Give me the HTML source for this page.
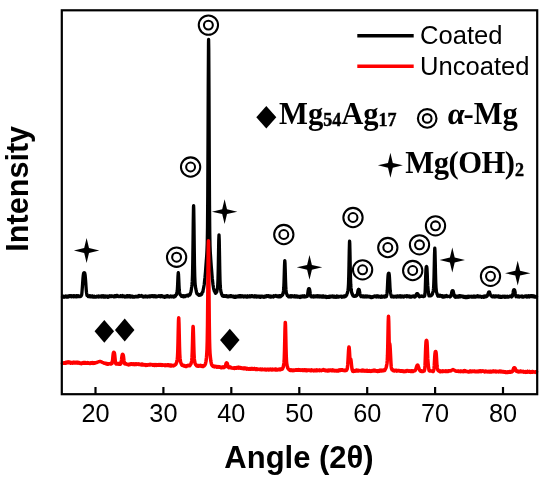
<!DOCTYPE html>
<html><head><meta charset="utf-8"><style>
html,body{margin:0;padding:0;background:#fff;}
body{width:550px;height:483px;overflow:hidden;}
svg{display:block;}
.tk{font-family:"Liberation Sans",Arial,sans-serif;font-size:25.3px;fill:#000;}
.lab{font-family:"Liberation Sans",Arial,sans-serif;font-size:31px;font-weight:bold;fill:#000;}
.leg{font-family:"Liberation Sans",Arial,sans-serif;font-size:25.6px;fill:#000;}
.ser{font-family:"Liberation Serif","Times New Roman",serif;font-size:30.6px;font-weight:bold;fill:#000;}
.sub{font-size:18px;stroke:#000;stroke-width:0.45px;}
.it{font-style:italic;}
</style></head><body>
<svg width="550" height="483" viewBox="0 0 550 483">
<rect x="0" y="0" width="550" height="483" fill="#fff"/>
<path d="M62.50,297.0 62.75,296.1 63.00,296.7 63.25,296.6 63.50,296.7 63.75,296.8 64.00,296.4 64.25,297.2 64.50,296.6 64.75,296.8 65.00,296.8 65.25,296.3 65.50,296.1 65.75,296.5 66.00,297.0 66.25,297.0 66.50,296.9 66.75,296.1 67.00,297.1 67.25,296.9 67.50,297.0 67.75,296.6 68.00,297.0 68.25,296.0 68.50,295.9 68.75,295.9 69.00,296.2 69.25,296.1 69.50,296.0 69.75,296.5 70.00,295.8 70.25,296.5 70.50,296.0 70.75,296.6 71.00,295.7 71.25,296.1 71.50,296.8 71.75,296.3 72.00,296.7 72.25,296.5 72.50,296.5 72.75,296.0 73.00,296.4 73.25,295.8 73.50,296.7 73.75,296.9 74.00,296.8 74.25,295.8 74.50,296.2 74.75,296.2 75.00,295.9 75.25,296.5 75.50,296.7 75.75,296.1 76.00,296.7 76.25,296.6 76.50,295.8 76.75,296.5 77.00,296.7 77.25,295.8 77.50,296.3 77.75,296.3 78.00,296.3 78.25,295.7 78.50,296.4 78.75,296.4 79.00,296.6 79.25,296.6 79.50,296.1 79.75,296.5 80.00,296.7 80.25,296.7 80.50,295.9 80.75,295.7 81.00,296.3 81.25,295.6 81.50,295.4 81.75,294.4 82.00,291.8 82.25,288.7 82.50,285.1 82.75,281.4 83.00,277.9 83.25,275.4 83.50,273.8 83.75,273.0 84.00,272.8 84.20,272.7 84.25,272.7 84.50,272.8 84.75,273.2 85.00,274.3 85.25,276.3 85.50,279.2 85.75,282.7 86.00,286.6 86.25,290.1 86.50,292.5 86.75,294.0 87.00,295.6 87.25,295.4 87.50,295.5 87.75,295.6 88.00,295.6 88.25,296.6 88.50,295.9 88.75,295.9 89.00,296.6 89.25,296.3 89.50,295.8 89.75,296.2 90.00,296.7 90.25,296.2 90.50,296.6 90.75,295.9 91.00,296.7 91.25,296.8 91.50,296.9 91.75,296.8 92.00,296.4 92.25,296.1 92.50,296.7 92.75,297.0 93.00,296.3 93.25,296.4 93.50,296.7 93.75,296.9 94.00,297.1 94.25,296.2 94.50,296.3 94.75,297.0 95.00,296.8 95.25,296.9 95.50,297.2 95.75,297.2 96.00,297.0 96.25,297.0 96.50,296.5 96.75,296.8 97.00,296.2 97.25,296.9 97.50,296.9 97.75,296.9 98.00,296.5 98.25,296.4 98.50,296.5 98.75,296.0 99.00,297.0 99.25,296.6 99.50,296.4 99.75,296.5 100.00,296.7 100.25,296.3 100.50,296.8 100.75,296.9 101.00,296.2 101.25,295.9 101.50,296.6 101.75,296.9 102.00,295.9 102.25,296.6 102.50,296.8 102.75,296.9 103.00,296.0 103.25,296.0 103.50,297.1 103.75,296.0 104.00,296.1 104.25,296.6 104.50,296.5 104.75,296.9 105.00,296.2 105.25,297.1 105.50,296.3 105.75,297.0 106.00,296.2 106.25,296.7 106.50,296.1 106.75,296.5 107.00,296.5 107.25,297.0 107.50,296.7 107.75,296.2 108.00,297.3 108.25,297.1 108.50,297.1 108.75,296.2 109.00,296.4 109.25,296.1 109.50,295.9 109.75,295.8 110.00,296.3 110.25,295.8 110.50,295.8 110.75,296.6 111.00,296.2 111.25,295.9 111.50,296.5 111.75,296.0 112.00,296.3 112.25,296.1 112.50,296.4 112.75,296.5 113.00,296.4 113.25,296.3 113.50,296.8 113.75,296.9 114.00,296.0 114.25,295.9 114.50,295.8 114.75,296.8 115.00,296.8 115.25,295.9 115.50,296.7 115.75,295.8 116.00,296.1 116.25,296.0 116.50,296.5 116.75,295.5 117.00,295.8 117.25,296.2 117.50,295.5 117.75,295.8 118.00,296.1 118.25,296.6 118.50,296.4 118.75,296.5 119.00,296.5 119.25,296.4 119.50,296.6 119.75,296.4 120.00,296.4 120.25,295.9 120.50,295.7 120.75,296.4 121.00,295.7 121.25,296.6 121.50,296.2 121.75,295.9 122.00,296.6 122.25,295.6 122.50,296.0 122.75,295.6 123.00,296.7 123.25,296.2 123.50,296.5 123.75,296.0 124.00,296.6 124.25,296.5 124.50,296.5 124.75,296.9 125.00,296.3 125.25,296.4 125.50,296.7 125.75,296.9 126.00,296.3 126.25,296.6 126.50,296.1 126.75,296.4 127.00,296.7 127.25,295.8 127.50,296.6 127.75,295.7 128.00,296.8 128.25,296.2 128.50,296.1 128.75,296.5 129.00,296.3 129.25,296.6 129.50,295.8 129.75,296.5 130.00,296.5 130.25,297.0 130.50,295.9 130.75,296.5 131.00,296.7 131.25,296.7 131.50,296.1 131.75,296.8 132.00,296.3 132.25,296.3 132.50,297.1 132.75,296.3 133.00,296.6 133.25,296.9 133.50,296.9 133.75,296.7 134.00,297.0 134.25,296.6 134.50,296.8 134.75,297.0 135.00,296.8 135.25,296.8 135.50,296.5 135.75,296.6 136.00,296.4 136.25,296.8 136.50,296.4 136.75,296.5 137.00,296.8 137.25,296.5 137.50,296.3 137.75,296.8 138.00,296.3 138.25,296.8 138.50,296.6 138.75,296.2 139.00,296.4 139.25,295.5 139.50,295.9 139.75,296.4 140.00,296.0 140.25,295.9 140.50,296.0 140.75,296.1 141.00,296.0 141.25,295.9 141.50,295.6 141.75,295.8 142.00,295.9 142.25,296.1 142.50,296.8 142.75,296.1 143.00,296.2 143.25,296.2 143.50,296.5 143.75,297.0 144.00,296.9 144.25,296.3 144.50,296.2 144.75,296.9 145.00,296.5 145.25,296.7 145.50,296.0 145.75,296.9 146.00,296.3 146.25,296.5 146.50,296.2 146.75,296.5 147.00,296.9 147.25,296.9 147.50,296.5 147.75,296.9 148.00,296.5 148.25,296.4 148.50,296.6 148.75,296.2 149.00,296.4 149.25,296.8 149.50,296.9 149.75,296.0 150.00,296.8 150.25,296.8 150.50,296.4 150.75,295.9 151.00,296.6 151.25,296.0 151.50,296.4 151.75,296.1 152.00,296.3 152.25,295.8 152.50,296.1 152.75,296.1 153.00,296.3 153.25,295.8 153.50,296.7 153.75,296.0 154.00,296.0 154.25,296.0 154.50,295.8 154.75,296.2 155.00,296.7 155.25,296.6 155.50,296.0 155.75,296.0 156.00,296.2 156.25,296.7 156.50,296.3 156.75,296.8 157.00,296.5 157.25,296.5 157.50,296.6 157.75,296.6 158.00,296.1 158.25,296.0 158.50,296.2 158.75,296.2 159.00,295.8 159.25,296.2 159.50,296.4 159.75,295.8 160.00,295.8 160.25,295.9 160.50,296.0 160.75,296.8 161.00,295.7 161.25,295.9 161.50,295.9 161.75,296.3 162.00,295.8 162.25,296.4 162.50,296.1 162.75,296.2 163.00,296.9 163.25,296.2 163.50,296.8 163.75,296.6 164.00,296.6 164.25,297.2 164.50,296.4 164.75,297.3 165.00,297.2 165.25,296.9 165.50,296.1 165.75,296.8 166.00,296.7 166.25,296.8 166.50,296.1 166.75,296.9 167.00,296.8 167.25,295.8 167.50,296.0 167.75,295.7 168.00,296.7 168.25,296.8 168.50,296.9 168.75,296.5 169.00,296.5 169.25,296.6 169.50,296.5 169.75,296.9 170.00,296.5 170.25,296.2 170.50,296.5 170.75,295.9 171.00,296.7 171.25,296.7 171.50,296.4 171.75,296.9 172.00,296.8 172.25,296.4 172.50,296.1 172.75,296.1 173.00,296.2 173.25,296.4 173.50,296.6 173.75,297.1 174.00,296.2 174.25,296.9 174.50,296.6 174.75,296.7 175.00,296.0 175.25,295.4 175.50,296.1 175.75,295.2 176.00,294.8 176.25,295.0 176.50,294.4 176.75,293.4 177.00,292.4 177.25,290.8 177.50,287.0 177.75,281.6 178.00,275.9 178.25,272.9 178.30,272.7 178.50,274.2 178.75,279.1 179.00,285.0 179.25,289.5 179.50,291.7 179.75,293.1 180.00,294.3 180.25,294.7 180.50,294.8 180.75,295.5 181.00,295.6 181.25,296.2 181.50,295.7 181.75,296.3 182.00,296.3 182.25,296.4 182.50,296.0 182.75,296.5 183.00,296.4 183.25,296.1 183.50,295.7 183.75,296.8 184.00,296.5 184.25,295.9 184.50,296.5 184.75,295.9 185.00,296.1 185.25,296.6 185.50,296.1 185.75,295.9 186.00,295.8 186.25,295.5 186.50,295.6 186.75,295.6 187.00,295.5 187.25,295.3 187.50,295.7 187.75,295.3 188.00,295.9 188.25,296.0 188.50,295.1 188.75,295.4 189.00,295.3 189.25,294.6 189.50,294.5 189.75,295.1 190.00,294.3 190.25,294.2 190.50,292.7 190.75,292.5 191.00,291.7 191.25,290.4 191.50,288.1 191.75,286.8 192.00,284.5 192.25,281.4 192.50,274.7 192.75,262.6 193.00,243.5 193.25,221.5 193.50,207.0 193.60,205.6 193.75,208.7 194.00,225.5 194.25,247.7 194.50,265.6 194.75,276.2 195.00,282.0 195.25,285.3 195.50,287.0 195.75,288.7 196.00,289.8 196.25,291.2 196.50,292.4 196.75,292.9 197.00,293.7 197.25,293.8 197.50,293.7 197.75,294.4 198.00,294.5 198.25,294.3 198.50,294.9 198.75,295.2 199.00,294.5 199.25,295.0 199.50,295.3 199.75,294.9 200.00,294.7 200.25,294.8 200.50,295.0 200.75,295.0 201.00,294.7 201.25,294.0 201.50,294.5 201.75,294.3 202.00,293.0 202.25,292.7 202.50,292.0 202.75,292.1 203.00,291.4 203.25,289.4 203.50,288.6 203.75,287.1 204.00,285.8 204.25,284.5 204.50,281.6 204.75,279.4 205.00,277.2 205.25,274.4 205.50,271.6 205.75,268.2 206.00,264.7 206.25,261.4 206.50,258.4 206.75,254.8 207.00,250.1 207.25,243.5 207.50,228.0 207.75,196.3 208.00,144.0 208.25,83.6 208.50,43.2 208.60,39.3 208.75,48.3 209.00,95.1 209.25,155.9 209.50,204.3 209.75,232.2 210.00,245.2 210.25,251.5 210.50,255.4 210.75,259.1 211.00,262.5 211.25,266.0 211.50,269.0 211.75,271.9 212.00,275.1 212.25,278.2 212.50,280.1 212.75,282.4 213.00,284.7 213.25,286.1 213.50,288.0 213.75,289.3 214.00,289.7 214.25,291.0 214.50,291.2 214.75,291.6 215.00,292.3 215.25,292.8 215.50,293.3 215.75,292.5 216.00,293.1 216.25,292.6 216.50,291.8 216.75,292.0 217.00,290.8 217.25,289.1 217.50,288.1 217.75,284.6 218.00,279.0 218.25,268.8 218.50,254.4 218.75,240.4 219.00,234.8 219.25,240.6 219.50,254.4 219.75,269.1 220.00,279.5 220.25,285.5 220.50,288.7 220.75,290.5 221.00,292.2 221.25,292.4 221.50,294.0 221.75,294.2 222.00,295.1 222.25,295.6 222.50,295.9 222.75,295.3 223.00,295.6 223.25,296.2 223.50,296.3 223.75,295.7 224.00,296.4 224.25,295.8 224.50,295.7 224.75,296.2 225.00,296.0 225.25,296.0 225.50,295.9 225.75,296.0 226.00,295.7 226.25,295.7 226.50,296.6 226.75,296.4 227.00,296.5 227.25,296.7 227.50,296.1 227.75,296.1 228.00,296.1 228.25,296.1 228.50,296.7 228.75,296.2 229.00,296.1 229.25,296.5 229.50,296.0 229.75,295.9 230.00,296.5 230.25,296.6 230.50,296.0 230.75,296.5 231.00,295.8 231.25,296.3 231.50,296.5 231.75,296.1 232.00,296.3 232.25,296.6 232.50,296.6 232.75,296.1 233.00,296.8 233.25,296.1 233.50,297.1 233.75,296.2 234.00,296.3 234.25,296.3 234.50,297.3 234.75,296.4 235.00,296.8 235.25,297.3 235.50,297.3 235.75,296.2 236.00,296.8 236.25,297.0 236.50,297.1 236.75,296.6 237.00,296.6 237.25,296.1 237.50,296.1 237.75,296.7 238.00,296.1 238.25,296.2 238.50,296.3 238.75,295.9 239.00,295.8 239.25,296.8 239.50,296.2 239.75,295.9 240.00,296.6 240.25,295.7 240.50,296.0 240.75,296.9 241.00,296.9 241.25,296.6 241.50,296.0 241.75,296.3 242.00,295.9 242.25,296.2 242.50,296.0 242.75,296.1 243.00,296.7 243.25,296.0 243.50,296.1 243.75,297.0 244.00,296.3 244.25,296.2 244.50,295.9 244.75,296.8 245.00,296.6 245.25,296.4 245.50,296.5 245.75,295.9 246.00,296.1 246.25,296.5 246.50,297.0 246.75,296.8 247.00,296.6 247.25,296.5 247.50,295.9 247.75,297.0 248.00,296.0 248.25,296.1 248.50,296.8 248.75,296.9 249.00,296.8 249.25,296.4 249.50,296.0 249.75,295.8 250.00,296.8 250.25,296.9 250.50,296.0 250.75,296.7 251.00,296.1 251.25,296.0 251.50,296.2 251.75,295.6 252.00,296.1 252.25,295.9 252.50,296.5 252.75,296.3 253.00,296.7 253.25,296.8 253.50,296.1 253.75,296.0 254.00,296.9 254.25,296.3 254.50,295.9 254.75,295.8 255.00,297.0 255.25,296.5 255.50,295.9 255.75,296.4 256.00,296.4 256.25,296.4 256.50,297.0 256.75,297.0 257.00,296.0 257.25,296.1 257.50,296.4 257.75,296.9 258.00,296.7 258.25,296.8 258.50,296.7 258.75,296.3 259.00,297.0 259.25,296.1 259.50,296.9 259.75,296.4 260.00,296.7 260.25,297.4 260.50,296.9 260.75,296.3 261.00,296.7 261.25,297.0 261.50,296.3 261.75,296.5 262.00,296.3 262.25,296.9 262.50,296.7 262.75,296.9 263.00,296.6 263.25,297.1 263.50,296.5 263.75,297.3 264.00,297.3 264.25,296.7 264.50,296.6 264.75,297.0 265.00,296.3 265.25,296.8 265.50,296.1 265.75,296.6 266.00,296.1 266.25,296.3 266.50,296.7 266.75,295.6 267.00,296.5 267.25,296.2 267.50,296.1 267.75,296.0 268.00,295.7 268.25,296.0 268.50,296.4 268.75,295.8 269.00,296.5 269.25,296.8 269.50,296.9 269.75,296.8 270.00,296.7 270.25,296.0 270.50,297.0 270.75,296.1 271.00,297.0 271.25,297.0 271.50,296.7 271.75,296.7 272.00,296.3 272.25,296.7 272.50,296.5 272.75,296.2 273.00,296.2 273.25,296.9 273.50,297.0 273.75,296.0 274.00,295.7 274.25,296.0 274.50,295.8 274.75,295.8 275.00,296.2 275.25,295.9 275.50,295.8 275.75,295.6 276.00,296.2 276.25,295.8 276.50,295.9 276.75,296.1 277.00,296.6 277.25,295.9 277.50,296.5 277.75,296.0 278.00,296.7 278.25,296.2 278.50,296.3 278.75,296.8 279.00,296.5 279.25,295.8 279.50,295.9 279.75,296.9 280.00,295.8 280.25,296.1 280.50,296.8 280.75,295.7 281.00,295.8 281.25,295.8 281.50,295.5 281.75,295.8 282.00,295.7 282.25,295.1 282.50,294.4 282.75,294.6 283.00,293.8 283.25,292.6 283.50,290.7 283.75,288.0 284.00,282.4 284.25,274.1 284.50,265.6 284.75,260.8 284.80,260.7 285.00,262.9 285.25,270.5 285.50,279.4 285.75,286.1 286.00,289.9 286.25,292.5 286.50,293.5 286.75,294.0 287.00,294.6 287.25,295.5 287.50,295.3 287.75,296.0 288.00,296.3 288.25,296.2 288.50,296.7 288.75,296.3 289.00,296.3 289.25,296.1 289.50,296.9 289.75,296.2 290.00,296.6 290.25,296.3 290.50,296.9 290.75,296.9 291.00,295.8 291.25,297.0 291.50,296.5 291.75,295.9 292.00,296.4 292.25,295.9 292.50,296.5 292.75,296.0 293.00,296.2 293.25,296.2 293.50,296.5 293.75,296.8 294.00,296.9 294.25,296.2 294.50,296.5 294.75,295.8 295.00,296.3 295.25,297.0 295.50,296.0 295.75,296.9 296.00,296.6 296.25,296.2 296.50,296.8 296.75,296.3 297.00,297.0 297.25,296.1 297.50,296.2 297.75,297.0 298.00,296.7 298.25,296.4 298.50,296.8 298.75,296.6 299.00,297.0 299.25,297.3 299.50,297.4 299.75,296.4 300.00,297.0 300.25,297.4 300.50,296.8 300.75,297.1 301.00,296.2 301.25,297.1 301.50,296.7 301.75,297.0 302.00,296.9 302.25,296.9 302.50,295.9 302.75,296.7 303.00,296.1 303.25,296.1 303.50,296.2 303.75,296.5 304.00,296.6 304.25,296.9 304.50,295.8 304.75,296.1 305.00,296.3 305.25,296.8 305.50,296.5 305.75,296.4 306.00,296.7 306.25,296.6 306.50,296.2 306.75,295.9 307.00,296.3 307.25,296.4 307.50,295.2 307.75,293.5 308.00,291.7 308.25,290.1 308.50,289.1 308.75,288.7 309.00,288.7 309.25,288.7 309.50,289.1 309.75,290.1 310.00,291.8 310.25,293.7 310.50,295.1 310.75,296.3 311.00,296.3 311.25,296.9 311.50,296.2 311.75,296.0 312.00,296.8 312.25,296.2 312.50,296.9 312.75,296.6 313.00,296.5 313.25,296.0 313.50,296.8 313.75,296.0 314.00,297.0 314.25,296.9 314.50,296.3 314.75,296.0 315.00,296.9 315.25,296.4 315.50,296.0 315.75,296.4 316.00,296.1 316.25,296.2 316.50,296.5 316.75,296.8 317.00,296.6 317.25,295.8 317.50,296.2 317.75,296.2 318.00,296.9 318.25,295.8 318.50,296.4 318.75,296.9 319.00,296.3 319.25,296.1 319.50,296.5 319.75,296.3 320.00,297.0 320.25,296.0 320.50,296.2 320.75,296.1 321.00,296.8 321.25,296.3 321.50,297.0 321.75,297.0 322.00,297.0 322.25,296.2 322.50,295.9 322.75,296.3 323.00,297.0 323.25,296.8 323.50,295.9 323.75,296.7 324.00,297.0 324.25,297.1 324.50,296.9 324.75,297.1 325.00,297.1 325.25,296.5 325.50,296.3 325.75,297.1 326.00,296.4 326.25,296.7 326.50,297.5 326.75,297.0 327.00,296.9 327.25,297.4 327.50,296.6 327.75,297.4 328.00,297.3 328.25,296.7 328.50,296.6 328.75,296.4 329.00,297.3 329.25,296.4 329.50,296.2 329.75,297.2 330.00,296.8 330.25,296.9 330.50,297.0 330.75,296.1 331.00,296.2 331.25,296.6 331.50,296.1 331.75,296.6 332.00,296.9 332.25,296.8 332.50,296.7 332.75,296.0 333.00,296.3 333.25,297.1 333.50,296.2 333.75,296.7 334.00,296.1 334.25,297.2 334.50,296.3 334.75,296.6 335.00,296.8 335.25,297.0 335.50,297.3 335.75,297.0 336.00,296.5 336.25,296.2 336.50,296.9 336.75,297.2 337.00,296.0 337.25,296.9 337.50,296.1 337.75,296.5 338.00,296.5 338.25,296.6 338.50,297.0 338.75,296.7 339.00,296.4 339.25,296.8 339.50,296.5 339.75,296.5 340.00,296.4 340.25,296.6 340.50,296.4 340.75,296.4 341.00,296.3 341.25,296.7 341.50,296.5 341.75,297.2 342.00,297.1 342.25,296.5 342.50,296.8 342.75,297.1 343.00,296.4 343.25,296.6 343.50,296.4 343.75,296.6 344.00,296.9 344.25,295.9 344.50,296.8 344.75,296.5 345.00,296.6 345.25,296.3 345.50,296.5 345.75,295.8 346.00,296.1 346.25,295.3 346.50,295.3 346.75,295.0 347.00,293.9 347.25,293.0 347.50,292.9 347.75,291.7 348.00,290.2 348.25,287.8 348.50,284.0 348.75,276.3 349.00,264.5 349.25,251.0 349.50,242.1 349.60,241.2 349.75,243.1 350.00,253.6 350.25,267.1 350.50,278.2 350.75,284.7 351.00,287.9 351.25,290.1 351.50,291.5 351.75,292.9 352.00,293.8 352.25,293.6 352.50,295.0 352.75,294.9 353.00,295.8 353.25,295.7 353.50,295.8 353.75,296.1 354.00,296.2 354.25,296.4 354.50,296.3 354.75,296.3 355.00,296.0 355.25,296.3 355.50,295.8 355.75,296.1 356.00,295.9 356.25,296.0 356.50,295.3 356.75,295.7 357.00,295.2 357.25,294.7 357.50,293.4 357.75,291.9 358.00,290.6 358.25,289.7 358.50,289.4 358.70,289.5 358.75,289.4 359.00,289.6 359.25,289.9 359.50,291.0 359.75,292.5 360.00,294.1 360.25,295.0 360.50,295.5 360.75,296.2 361.00,296.6 361.25,296.0 361.50,296.5 361.75,295.8 362.00,296.4 362.25,296.3 362.50,296.2 362.75,296.8 363.00,296.7 363.25,295.9 363.50,296.1 363.75,296.7 364.00,296.9 364.25,296.5 364.50,296.8 364.75,296.9 365.00,296.6 365.25,296.5 365.50,295.9 365.75,296.1 366.00,296.5 366.25,296.9 366.50,296.1 366.75,296.3 367.00,295.9 367.25,296.7 367.50,296.4 367.75,296.9 368.00,296.2 368.25,296.8 368.50,296.8 368.75,296.6 369.00,296.3 369.25,296.6 369.50,297.1 369.75,296.5 370.00,296.4 370.25,296.9 370.50,296.7 370.75,297.4 371.00,297.5 371.25,297.7 371.50,297.6 371.75,297.3 372.00,296.7 372.25,297.4 372.50,297.2 372.75,297.1 373.00,297.0 373.25,297.1 373.50,296.4 373.75,296.7 374.00,296.5 374.25,296.2 374.50,296.1 374.75,295.9 375.00,296.3 375.25,296.2 375.50,296.2 375.75,296.8 376.00,296.6 376.25,296.6 376.50,296.9 376.75,296.0 377.00,296.4 377.25,295.9 377.50,296.2 377.75,296.9 378.00,295.9 378.25,296.7 378.50,296.9 378.75,296.5 379.00,296.8 379.25,296.4 379.50,296.3 379.75,296.5 380.00,296.2 380.25,296.4 380.50,296.4 380.75,297.2 381.00,296.4 381.25,296.3 381.50,297.1 381.75,296.2 382.00,297.2 382.25,297.0 382.50,296.8 382.75,296.5 383.00,296.3 383.25,296.2 383.50,296.2 383.75,296.4 384.00,296.5 384.25,297.0 384.50,296.5 384.75,297.0 385.00,296.7 385.25,296.0 385.50,296.4 385.75,295.9 386.00,295.7 386.25,296.7 386.50,295.8 386.75,295.1 387.00,293.5 387.25,290.5 387.50,285.5 387.75,280.2 388.00,276.3 388.25,274.0 388.50,273.3 388.70,273.1 388.75,273.1 389.00,273.4 389.25,274.7 389.50,277.8 389.75,282.4 390.00,287.5 390.25,290.8 390.50,292.6 390.75,294.0 391.00,295.1 391.25,295.8 391.50,296.9 391.75,296.7 392.00,296.9 392.25,296.8 392.50,296.4 392.75,296.5 393.00,296.6 393.25,296.4 393.50,296.6 393.75,297.0 394.00,296.2 394.25,296.4 394.50,296.6 394.75,296.9 395.00,296.8 395.25,296.9 395.50,296.2 395.75,296.3 396.00,296.4 396.25,296.3 396.50,296.8 396.75,297.1 397.00,296.7 397.25,295.9 397.50,296.1 397.75,296.7 398.00,296.8 398.25,296.4 398.50,296.1 398.75,296.1 399.00,296.5 399.25,296.8 399.50,296.2 399.75,296.0 400.00,295.8 400.25,296.0 400.50,296.9 400.75,296.6 401.00,297.1 401.25,296.0 401.50,296.4 401.75,296.9 402.00,296.7 402.25,296.0 402.50,296.4 402.75,296.7 403.00,296.8 403.25,296.5 403.50,296.2 403.75,297.1 404.00,296.5 404.25,296.8 404.50,296.6 404.75,296.0 405.00,296.2 405.25,296.0 405.50,296.1 405.75,296.1 406.00,296.3 406.25,296.2 406.50,296.2 406.75,296.7 407.00,295.7 407.25,295.8 407.50,296.6 407.75,296.3 408.00,296.2 408.25,296.1 408.50,296.4 408.75,296.1 409.00,296.9 409.25,296.9 409.50,296.3 409.75,296.0 410.00,297.0 410.25,296.4 410.50,296.8 410.75,297.0 411.00,296.9 411.25,297.0 411.50,296.5 411.75,296.9 412.00,296.4 412.25,296.2 412.50,296.4 412.75,296.2 413.00,296.7 413.25,296.7 413.50,295.9 413.75,295.9 414.00,296.2 414.25,296.4 414.50,297.0 414.75,297.0 415.00,297.0 415.25,296.8 415.50,296.5 415.75,295.9 416.00,295.3 416.25,294.6 416.50,294.1 416.75,293.7 417.00,293.6 417.20,293.6 417.25,293.6 417.50,293.7 417.75,293.8 418.00,294.2 418.25,295.0 418.50,295.6 418.75,296.2 419.00,296.5 419.25,296.2 419.50,296.9 419.75,296.8 420.00,296.5 420.25,296.1 420.50,296.2 420.75,296.4 421.00,296.3 421.25,296.0 421.50,296.4 421.75,296.4 422.00,296.2 422.25,296.3 422.50,296.2 422.75,296.2 423.00,296.5 423.25,296.3 423.50,295.9 423.75,296.5 424.00,296.1 424.25,295.9 424.50,296.1 424.75,295.6 425.00,293.8 425.25,289.0 425.50,281.5 425.75,274.0 426.00,268.8 426.25,266.9 426.50,266.5 426.75,266.8 427.00,268.8 427.25,273.9 427.50,281.3 427.75,285.7 428.00,288.6 428.25,291.3 428.50,292.9 428.75,294.7 429.00,295.8 429.25,295.3 429.50,295.5 429.75,295.6 430.00,295.8 430.25,295.4 430.50,295.8 430.75,295.4 431.00,295.7 431.25,295.4 431.50,295.4 431.75,294.6 432.00,294.8 432.25,294.4 432.50,293.8 432.75,292.4 433.00,292.3 433.25,290.7 433.50,288.4 433.75,284.6 434.00,277.3 434.25,266.3 434.50,254.7 434.75,248.4 434.80,248.2 435.00,251.3 435.25,261.5 435.50,273.2 435.75,282.3 436.00,287.3 436.25,289.9 436.50,292.3 436.75,292.7 437.00,293.9 437.25,294.4 437.50,294.6 437.75,295.9 438.00,296.2 438.25,295.5 438.50,295.8 438.75,295.8 439.00,295.6 439.25,296.2 439.50,296.3 439.75,296.2 440.00,296.1 440.25,295.3 440.50,295.5 440.75,295.9 441.00,296.2 441.25,295.9 441.50,296.1 441.75,296.6 442.00,295.7 442.25,296.1 442.50,296.2 442.75,297.1 443.00,296.3 443.25,296.1 443.50,296.7 443.75,296.9 444.00,296.2 444.25,297.0 444.50,296.1 444.75,296.7 445.00,296.0 445.25,296.8 445.50,295.9 445.75,296.5 446.00,296.5 446.25,295.8 446.50,295.5 446.75,296.2 447.00,296.1 447.25,296.2 447.50,296.6 447.75,296.3 448.00,296.4 448.25,296.4 448.50,296.4 448.75,296.4 449.00,296.2 449.25,296.4 449.50,296.4 449.75,296.4 450.00,296.9 450.25,296.1 450.50,296.2 450.75,296.3 451.00,295.7 451.25,294.8 451.50,293.5 451.75,292.1 452.00,291.2 452.25,290.8 452.50,290.7 452.60,290.6 452.75,290.6 453.00,290.8 453.25,291.3 453.50,292.5 453.75,293.7 454.00,295.0 454.25,296.1 454.50,296.5 454.75,296.3 455.00,297.1 455.25,296.6 455.50,296.8 455.75,296.3 456.00,297.2 456.25,296.2 456.50,296.6 456.75,297.1 457.00,297.2 457.25,297.1 457.50,297.0 457.75,296.3 458.00,296.1 458.25,296.6 458.50,296.1 458.75,297.1 459.00,295.9 459.25,296.3 459.50,296.1 459.75,295.8 460.00,296.4 460.25,295.8 460.50,296.8 460.75,296.5 461.00,296.0 461.25,296.6 461.50,296.5 461.75,296.0 462.00,296.7 462.25,296.8 462.50,296.5 462.75,296.3 463.00,297.0 463.25,297.1 463.50,296.5 463.75,296.3 464.00,297.3 464.25,297.1 464.50,296.6 464.75,297.0 465.00,296.7 465.25,297.5 465.50,296.8 465.75,296.6 466.00,296.4 466.25,296.8 466.50,297.6 466.75,296.7 467.00,297.0 467.25,297.6 467.50,296.4 467.75,296.7 468.00,297.3 468.25,296.4 468.50,297.4 468.75,297.2 469.00,296.4 469.25,296.9 469.50,296.8 469.75,296.9 470.00,296.4 470.25,296.5 470.50,296.3 470.75,296.3 471.00,296.2 471.25,297.0 471.50,297.0 471.75,296.4 472.00,296.8 472.25,296.5 472.50,296.3 472.75,296.3 473.00,297.1 473.25,296.3 473.50,296.6 473.75,297.0 474.00,296.3 474.25,296.9 474.50,296.1 474.75,296.8 475.00,296.9 475.25,296.9 475.50,297.1 475.75,296.8 476.00,297.1 476.25,296.3 476.50,296.6 476.75,296.2 477.00,296.0 477.25,296.4 477.50,296.7 477.75,296.8 478.00,295.8 478.25,296.9 478.50,296.1 478.75,296.1 479.00,296.7 479.25,296.8 479.50,296.6 479.75,296.1 480.00,296.4 480.25,296.8 480.50,296.3 480.75,296.9 481.00,296.9 481.25,296.6 481.50,297.2 481.75,296.6 482.00,297.1 482.25,297.0 482.50,296.7 482.75,296.9 483.00,296.9 483.25,296.8 483.50,296.3 483.75,297.3 484.00,297.2 484.25,296.1 484.50,297.1 484.75,296.6 485.00,296.0 485.25,296.8 485.50,296.3 485.75,296.6 486.00,296.7 486.25,296.4 486.50,295.8 486.75,296.5 487.00,296.1 487.25,295.9 487.50,295.1 487.75,294.7 488.00,294.0 488.25,293.3 488.50,292.6 488.75,292.1 489.00,291.8 489.10,291.8 489.25,291.9 489.50,292.1 489.75,292.8 490.00,293.4 490.25,294.1 490.50,294.7 490.75,295.2 491.00,295.8 491.25,295.9 491.50,296.2 491.75,296.1 492.00,296.3 492.25,296.8 492.50,296.1 492.75,296.4 493.00,296.6 493.25,295.9 493.50,296.9 493.75,296.4 494.00,296.1 494.25,296.7 494.50,296.8 494.75,296.5 495.00,296.9 495.25,295.9 495.50,296.4 495.75,296.6 496.00,296.8 496.25,296.5 496.50,296.4 496.75,296.1 497.00,296.3 497.25,296.3 497.50,296.7 497.75,296.7 498.00,296.6 498.25,296.9 498.50,295.9 498.75,296.8 499.00,296.5 499.25,296.9 499.50,296.5 499.75,296.7 500.00,297.2 500.25,296.3 500.50,296.7 500.75,296.9 501.00,297.3 501.25,296.6 501.50,297.2 501.75,296.5 502.00,296.5 502.25,296.8 502.50,296.9 502.75,297.1 503.00,297.1 503.25,296.3 503.50,296.8 503.75,296.7 504.00,296.5 504.25,297.0 504.50,297.1 504.75,296.7 505.00,297.2 505.25,296.3 505.50,296.4 505.75,297.1 506.00,296.6 506.25,296.9 506.50,296.9 506.75,296.4 507.00,297.1 507.25,297.1 507.50,296.3 507.75,296.5 508.00,297.1 508.25,297.2 508.50,297.1 508.75,296.6 509.00,296.5 509.25,296.5 509.50,296.2 509.75,296.5 510.00,296.2 510.25,296.1 510.50,296.3 510.75,295.9 511.00,296.4 511.25,296.6 511.50,296.5 511.75,296.9 512.00,296.7 512.25,296.2 512.50,295.9 512.75,294.5 513.00,293.1 513.25,291.4 513.50,290.3 513.75,289.9 514.00,289.6 514.10,289.6 514.25,289.7 514.50,289.8 514.75,290.5 515.00,291.6 515.25,293.3 515.50,294.7 515.75,295.6 516.00,296.7 516.25,295.8 516.50,296.1 516.75,296.5 517.00,296.6 517.25,296.7 517.50,296.3 517.75,296.1 518.00,296.8 518.25,295.9 518.50,295.9 518.75,296.1 519.00,296.4 519.25,297.0 519.50,296.7 519.75,296.6 520.00,296.5 520.25,296.7 520.50,296.7 520.75,296.3 521.00,296.1 521.25,296.2 521.50,296.9 521.75,296.7 522.00,296.9 522.25,296.0 522.50,297.0 522.75,296.4 523.00,297.0 523.25,296.6 523.50,296.6 523.75,296.9 524.00,296.6 524.25,296.7 524.50,296.1 524.75,296.6 525.00,296.3 525.25,296.0 525.50,296.0 525.75,296.5 526.00,296.2 526.25,296.8 526.50,296.0 526.75,295.9 527.00,297.1 527.25,296.3 527.50,296.5 527.75,296.1 528.00,296.1 528.25,296.3 528.50,296.7 528.75,295.8 529.00,296.7 529.25,296.9 529.50,296.4 529.75,296.1 530.00,295.9 530.25,295.8 530.50,296.0 530.75,296.6 531.00,295.6 531.25,296.6 531.50,296.4 531.75,295.7 532.00,295.8 532.25,296.6 532.50,296.5 532.75,296.1 533.00,296.8 533.25,296.0 533.50,296.3 533.75,296.0 534.00,296.7 534.25,296.0 534.50,296.2 534.75,297.0 535.00,296.7 535.25,297.0 535.50,297.1 535.75,297.0 536.00,296.6 536.25,297.3 536.50,296.6" fill="none" stroke="#000" stroke-width="3.3" stroke-linejoin="round" stroke-linecap="round"/>
<path d="M62.50,363.4 62.75,363.1 63.00,363.2 63.25,362.9 63.50,363.2 63.75,363.2 64.00,363.2 64.25,362.9 64.50,363.3 64.75,363.2 65.00,362.9 65.25,363.0 65.50,362.6 65.75,363.1 66.00,362.8 66.25,363.0 66.50,362.4 66.75,363.0 67.00,362.2 67.25,362.5 67.50,362.1 67.75,362.1 68.00,362.6 68.25,362.0 68.50,362.2 68.75,362.1 69.00,362.6 69.25,362.1 69.50,362.3 69.75,362.8 70.00,362.7 70.25,362.8 70.50,363.1 70.75,362.4 71.00,363.0 71.25,363.1 71.50,363.1 71.75,363.1 72.00,362.5 72.25,362.5 72.50,363.1 72.75,362.9 73.00,362.6 73.25,362.4 73.50,362.8 73.75,362.4 74.00,362.9 74.25,362.5 74.50,362.9 74.75,362.3 75.00,362.6 75.25,362.3 75.50,362.8 75.75,362.6 76.00,362.4 76.25,363.0 76.50,362.7 76.75,362.5 77.00,362.9 77.25,362.5 77.50,362.9 77.75,362.5 78.00,363.1 78.25,362.4 78.50,363.0 78.75,362.7 79.00,362.9 79.25,363.1 79.50,362.7 79.75,362.9 80.00,362.9 80.25,363.5 80.50,363.1 80.75,363.3 81.00,363.1 81.25,363.0 81.50,363.6 81.75,363.2 82.00,363.3 82.25,363.3 82.50,363.3 82.75,362.9 83.00,362.7 83.25,363.0 83.50,362.7 83.75,362.6 84.00,363.3 84.25,363.0 84.50,362.9 84.75,362.6 85.00,363.1 85.25,362.9 85.50,362.6 85.75,363.3 86.00,363.2 86.25,363.2 86.50,363.1 86.75,362.9 87.00,362.8 87.25,363.1 87.50,362.7 87.75,363.1 88.00,362.7 88.25,362.7 88.50,363.2 88.75,363.0 89.00,363.3 89.25,363.4 89.50,363.5 89.75,363.3 90.00,363.4 90.25,363.3 90.50,363.5 90.75,363.4 91.00,362.7 91.25,362.9 91.50,363.0 91.75,362.8 92.00,362.8 92.25,363.3 92.50,362.6 92.75,362.7 93.00,363.2 93.25,362.8 93.50,362.8 93.75,363.3 94.00,363.1 94.25,362.9 94.50,362.7 94.75,362.8 95.00,363.1 95.25,363.0 95.50,362.7 95.75,362.8 96.00,362.7 96.25,362.7 96.50,362.6 96.75,362.4 97.00,362.3 97.25,362.3 97.50,362.2 97.75,362.1 98.00,362.0 98.25,361.9 98.50,361.8 98.75,361.7 99.00,361.7 99.25,361.6 99.50,361.5 99.75,361.6 99.90,361.6 100.00,361.6 100.25,361.5 100.50,361.6 100.75,361.6 101.00,361.7 101.25,361.8 101.50,361.9 101.75,362.0 102.00,362.2 102.25,362.3 102.50,362.4 102.75,362.4 103.00,362.6 103.25,362.7 103.50,362.9 103.75,362.9 104.00,362.9 104.25,363.1 104.50,363.3 104.75,363.4 105.00,363.5 105.25,363.3 105.50,363.3 105.75,363.7 106.00,363.8 106.25,363.9 106.50,363.6 106.75,363.6 107.00,363.6 107.25,364.2 107.50,364.3 107.75,363.8 108.00,364.2 108.25,363.8 108.50,363.9 108.75,364.0 109.00,363.7 109.25,363.7 109.50,363.7 109.75,363.7 110.00,363.8 110.25,363.5 110.50,364.0 110.75,363.5 111.00,363.7 111.25,363.9 111.50,363.5 111.75,363.6 112.00,363.5 112.25,362.7 112.50,361.1 112.75,358.4 113.00,355.7 113.25,353.7 113.50,352.6 113.75,352.3 113.90,352.2 114.00,352.3 114.25,352.5 114.50,353.4 114.75,355.3 115.00,357.9 115.25,360.6 115.50,362.5 115.75,363.5 116.00,363.9 116.25,363.7 116.50,364.1 116.75,364.1 117.00,364.1 117.25,363.8 117.50,363.9 117.75,363.6 118.00,364.1 118.25,364.2 118.50,363.6 118.75,364.1 119.00,364.1 119.25,363.6 119.50,364.2 119.75,363.9 120.00,363.8 120.25,363.6 120.50,364.1 120.75,363.7 121.00,363.3 121.25,361.9 121.50,360.0 121.75,357.7 122.00,355.9 122.25,354.8 122.50,354.4 122.70,354.3 122.75,354.3 123.00,354.6 123.25,355.2 123.50,356.5 123.75,358.7 124.00,360.9 124.25,362.7 124.50,363.5 124.75,363.8 125.00,363.9 125.25,363.7 125.50,363.9 125.75,364.0 126.00,363.7 126.25,364.0 126.50,364.0 126.75,364.3 127.00,364.5 127.25,364.4 127.50,364.5 127.75,364.5 128.00,364.3 128.25,364.4 128.50,364.8 128.75,364.9 129.00,364.2 129.25,364.0 129.50,364.7 129.75,364.6 130.00,364.4 130.25,364.5 130.50,364.3 130.75,364.5 131.00,363.9 131.25,364.0 131.50,364.1 131.75,363.8 132.00,364.2 132.25,363.9 132.50,364.2 132.75,364.3 133.00,364.1 133.25,364.5 133.50,364.3 133.75,364.4 134.00,363.8 134.25,363.9 134.50,364.4 134.75,364.6 135.00,364.3 135.25,364.5 135.50,363.8 135.75,364.5 136.00,364.5 136.25,364.2 136.50,364.1 136.75,364.3 137.00,363.9 137.25,364.2 137.50,364.2 137.75,364.1 138.00,363.9 138.25,363.8 138.50,363.9 138.75,364.5 139.00,364.0 139.25,363.9 139.50,364.1 139.75,364.3 140.00,364.4 140.25,364.7 140.50,364.7 140.75,364.8 141.00,364.8 141.25,364.4 141.50,364.2 141.75,364.9 142.00,364.3 142.25,364.7 142.50,364.4 142.75,364.9 143.00,364.4 143.25,364.6 143.50,364.5 143.75,365.0 144.00,364.9 144.25,364.9 144.50,364.7 144.75,364.6 145.00,365.2 145.25,365.1 145.50,365.1 145.75,365.4 146.00,365.0 146.25,364.8 146.50,365.1 146.75,364.8 147.00,365.0 147.25,364.9 147.50,364.9 147.75,365.2 148.00,365.1 148.25,364.7 148.50,365.0 148.75,365.0 149.00,364.9 149.25,364.7 149.50,364.9 149.75,364.6 150.00,364.3 150.25,364.5 150.50,364.8 150.75,364.6 151.00,364.7 151.25,364.7 151.50,364.5 151.75,364.5 152.00,364.5 152.25,365.0 152.50,364.7 152.75,364.8 153.00,365.2 153.25,365.0 153.50,365.1 153.75,365.1 154.00,365.3 154.25,364.6 154.50,364.8 154.75,365.3 155.00,364.9 155.25,365.3 155.50,364.7 155.75,364.6 156.00,365.2 156.25,364.8 156.50,364.9 156.75,365.3 157.00,364.7 157.25,365.3 157.50,364.8 157.75,364.7 158.00,364.7 158.25,364.9 158.50,364.9 158.75,365.2 159.00,364.6 159.25,364.6 159.50,364.7 159.75,365.0 160.00,365.2 160.25,364.9 160.50,365.0 160.75,365.0 161.00,364.5 161.25,364.7 161.50,365.3 161.75,364.8 162.00,365.4 162.25,365.0 162.50,364.8 162.75,364.7 163.00,364.9 163.25,365.0 163.50,365.2 163.75,365.2 164.00,365.3 164.25,365.3 164.50,365.0 164.75,365.1 165.00,365.7 165.25,364.9 165.50,365.4 165.75,365.2 166.00,365.3 166.25,365.0 166.50,365.0 166.75,365.1 167.00,365.4 167.25,364.9 167.50,364.7 167.75,364.7 168.00,365.4 168.25,365.0 168.50,364.9 168.75,365.3 169.00,365.6 169.25,365.4 169.50,365.1 169.75,365.3 170.00,365.3 170.25,365.1 170.50,365.9 170.75,365.5 171.00,365.2 171.25,365.8 171.50,365.9 171.75,365.8 172.00,365.3 172.25,365.3 172.50,365.5 172.75,365.6 173.00,365.8 173.25,365.9 173.50,365.8 173.75,365.3 174.00,365.5 174.25,365.1 174.50,365.3 174.75,364.9 175.00,364.8 175.25,364.7 175.50,364.6 175.75,364.3 176.00,364.2 176.25,363.2 176.50,362.6 176.75,362.1 177.00,361.0 177.25,359.5 177.50,356.8 177.75,351.6 178.00,342.7 178.25,331.0 178.50,320.8 178.70,317.8 178.75,318.1 179.00,324.3 179.25,335.8 179.50,346.7 179.75,354.1 180.00,358.2 180.25,360.2 180.50,361.4 180.75,362.2 181.00,363.3 181.25,363.8 181.50,364.1 181.75,364.8 182.00,364.9 182.25,365.3 182.50,365.2 182.75,365.5 183.00,365.4 183.25,365.6 183.50,365.8 183.75,365.3 184.00,365.7 184.25,365.9 184.50,365.6 184.75,366.2 185.00,366.3 185.25,366.5 185.50,366.1 185.75,366.2 186.00,366.5 186.25,366.0 186.50,366.3 186.75,365.9 187.00,365.8 187.25,365.6 187.50,365.5 187.75,365.6 188.00,365.3 188.25,365.8 188.50,365.8 188.75,365.2 189.00,365.2 189.25,365.1 189.50,365.8 189.75,365.1 190.00,365.4 190.25,364.9 190.50,364.5 190.75,364.1 191.00,363.9 191.25,362.7 191.50,362.3 191.75,360.5 192.00,357.4 192.25,351.8 192.50,343.3 192.75,333.6 193.00,327.1 193.10,326.5 193.25,327.9 193.50,335.5 193.75,345.2 194.00,353.3 194.25,358.2 194.50,360.8 194.75,362.2 195.00,363.2 195.25,363.8 195.50,364.6 195.75,364.6 196.00,365.1 196.25,365.7 196.50,365.5 196.75,366.0 197.00,366.1 197.25,365.9 197.50,365.5 197.75,366.1 198.00,366.0 198.25,365.7 198.50,366.2 198.75,365.9 199.00,365.5 199.25,365.5 199.50,365.6 199.75,365.9 200.00,366.1 200.25,365.5 200.50,365.4 200.75,365.9 201.00,365.8 201.25,365.9 201.50,366.2 201.75,366.3 202.00,366.4 202.25,366.3 202.50,365.7 202.75,365.8 203.00,366.2 203.25,366.5 203.50,365.8 203.75,366.1 204.00,365.9 204.25,365.8 204.50,365.5 204.75,365.2 205.00,364.8 205.25,364.2 205.50,363.7 205.75,362.5 206.00,361.3 206.25,359.3 206.50,357.2 206.75,353.8 207.00,349.5 207.25,341.1 207.50,325.6 207.75,300.2 208.00,269.0 208.25,245.2 208.40,240.7 208.50,242.7 208.75,263.1 209.00,294.0 209.25,321.3 209.50,338.7 209.75,348.1 210.00,353.1 210.25,355.9 210.50,358.2 210.75,360.4 211.00,361.9 211.25,363.1 211.50,364.2 211.75,364.8 212.00,365.2 212.25,365.6 212.50,365.8 212.75,366.0 213.00,366.4 213.25,366.5 213.50,366.6 213.75,366.6 214.00,366.1 214.25,366.4 214.50,366.8 214.75,366.4 215.00,366.7 215.25,366.4 215.50,366.5 215.75,366.7 216.00,366.5 216.25,366.8 216.50,366.6 216.75,367.1 217.00,366.7 217.25,366.8 217.50,367.1 217.75,366.9 218.00,366.5 218.25,366.7 218.50,367.0 218.75,366.7 219.00,366.8 219.25,367.2 219.50,367.1 219.75,367.0 220.00,367.3 220.25,367.4 220.50,367.0 220.75,367.2 221.00,367.3 221.25,367.8 221.50,367.2 221.75,367.4 222.00,367.2 222.25,367.6 222.50,367.6 222.75,367.0 223.00,367.6 223.25,367.4 223.50,367.0 223.75,367.5 224.00,367.0 224.25,367.3 224.50,366.7 224.75,367.0 225.00,367.0 225.25,366.9 225.50,366.0 225.75,364.8 226.00,363.7 226.25,363.1 226.50,362.9 226.70,363.0 226.75,362.9 227.00,363.0 227.25,363.4 227.50,364.3 227.75,365.4 228.00,366.7 228.25,367.3 228.50,367.3 228.75,367.6 229.00,367.3 229.25,367.1 229.50,367.3 229.75,367.0 230.00,367.0 230.25,367.3 230.50,367.6 230.75,367.2 231.00,367.5 231.25,367.9 231.50,367.9 231.75,368.1 232.00,368.0 232.25,368.0 232.50,368.1 232.75,368.2 233.00,368.1 233.25,368.1 233.50,368.1 233.75,367.9 234.00,368.1 234.25,368.4 234.50,368.2 234.75,367.9 235.00,368.3 235.25,367.7 235.50,368.3 235.75,368.1 236.00,367.9 236.25,367.8 236.50,368.1 236.75,367.4 237.00,367.4 237.25,367.8 237.50,367.6 237.75,367.7 238.00,367.7 238.25,367.3 238.50,368.1 238.75,367.8 239.00,367.3 239.25,367.8 239.50,367.6 239.75,367.8 240.00,367.9 240.25,368.2 240.50,367.6 240.75,368.3 241.00,368.0 241.25,367.8 241.50,368.0 241.75,368.0 242.00,368.5 242.25,368.3 242.50,368.0 242.75,368.5 243.00,368.3 243.25,368.6 243.50,368.0 243.75,368.7 244.00,368.7 244.25,368.0 244.50,368.4 244.75,368.1 245.00,368.5 245.25,368.1 245.50,368.8 245.75,368.3 246.00,368.7 246.25,368.8 246.50,368.6 246.75,368.5 247.00,369.2 247.25,368.5 247.50,368.7 247.75,368.9 248.00,369.1 248.25,369.0 248.50,368.9 248.75,369.2 249.00,369.3 249.25,369.2 249.50,369.0 249.75,368.9 250.00,368.6 250.25,369.0 250.50,369.0 250.75,368.8 251.00,369.2 251.25,368.5 251.50,369.0 251.75,368.9 252.00,369.1 252.25,369.1 252.50,368.6 252.75,369.2 253.00,368.8 253.25,369.0 253.50,369.2 253.75,369.0 254.00,369.0 254.25,368.6 254.50,369.0 254.75,368.7 255.00,368.9 255.25,368.9 255.50,369.4 255.75,369.1 256.00,369.2 256.25,368.8 256.50,368.9 256.75,369.4 257.00,368.8 257.25,369.5 257.50,369.1 257.75,369.1 258.00,369.3 258.25,369.2 258.50,369.3 258.75,369.3 259.00,369.5 259.25,369.2 259.50,369.2 259.75,369.4 260.00,369.2 260.25,369.5 260.50,369.5 260.75,369.7 261.00,369.2 261.25,369.4 261.50,369.7 261.75,369.3 262.00,369.7 262.25,369.5 262.50,369.0 262.75,369.2 263.00,369.5 263.25,369.3 263.50,369.4 263.75,369.6 264.00,369.4 264.25,369.4 264.50,369.6 264.75,369.3 265.00,369.0 265.25,369.3 265.50,369.6 265.75,369.9 266.00,369.6 266.25,369.4 266.50,370.0 266.75,369.5 267.00,369.4 267.25,369.6 267.50,369.5 267.75,369.3 268.00,369.8 268.25,369.7 268.50,370.0 268.75,369.3 269.00,369.9 269.25,369.8 269.50,369.4 269.75,369.5 270.00,369.7 270.25,369.4 270.50,369.2 270.75,369.8 271.00,369.2 271.25,369.5 271.50,369.4 271.75,369.8 272.00,369.5 272.25,369.4 272.50,369.8 272.75,369.4 273.00,369.7 273.25,369.3 273.50,369.7 273.75,369.7 274.00,369.8 274.25,369.5 274.50,369.4 274.75,369.7 275.00,369.9 275.25,369.5 275.50,369.2 275.75,369.4 276.00,370.0 276.25,369.2 276.50,369.3 276.75,369.3 277.00,370.0 277.25,369.6 277.50,369.8 277.75,369.8 278.00,369.6 278.25,369.8 278.50,369.6 278.75,369.7 279.00,369.5 279.25,369.2 279.50,369.6 279.75,369.4 280.00,369.3 280.25,369.8 280.50,369.3 280.75,369.1 281.00,369.5 281.25,369.3 281.50,368.9 281.75,369.0 282.00,369.1 282.25,368.6 282.50,368.9 282.75,368.3 283.00,367.5 283.25,367.1 283.50,365.6 283.75,364.4 284.00,362.7 284.25,358.5 284.50,351.1 284.75,340.3 285.00,328.9 285.25,322.7 285.30,322.4 285.50,325.4 285.75,335.4 286.00,347.0 286.25,355.9 286.50,361.1 286.75,363.7 287.00,364.9 287.25,366.5 287.50,366.9 287.75,368.0 288.00,368.4 288.25,368.8 288.50,369.0 288.75,369.4 289.00,369.3 289.25,369.5 289.50,370.1 289.75,369.7 290.00,369.9 290.25,370.3 290.50,370.0 290.75,370.0 291.00,370.5 291.25,369.9 291.50,370.0 291.75,370.5 292.00,370.0 292.25,370.1 292.50,370.5 292.75,370.1 293.00,370.6 293.25,370.5 293.50,370.5 293.75,370.0 294.00,370.0 294.25,370.4 294.50,370.4 294.75,369.9 295.00,369.9 295.25,369.9 295.50,369.8 295.75,370.0 296.00,370.1 296.25,370.2 296.50,369.7 296.75,369.8 297.00,369.7 297.25,369.8 297.50,369.7 297.75,370.3 298.00,369.9 298.25,369.7 298.50,370.1 298.75,370.3 299.00,370.2 299.25,370.0 299.50,369.8 299.75,369.8 300.00,369.8 300.25,370.2 300.50,370.2 300.75,370.0 301.00,370.3 301.25,370.1 301.50,370.2 301.75,369.9 302.00,369.8 302.25,369.8 302.50,370.4 302.75,370.3 303.00,370.4 303.25,370.4 303.50,370.4 303.75,370.1 304.00,370.4 304.25,369.9 304.50,370.3 304.75,369.9 305.00,370.6 305.25,370.6 305.50,370.0 305.75,370.5 306.00,370.6 306.25,369.9 306.50,370.4 306.75,370.3 307.00,370.4 307.25,370.7 307.50,370.5 307.75,370.1 308.00,370.4 308.25,370.4 308.50,370.0 308.75,370.1 309.00,370.3 309.25,370.1 309.50,370.1 309.75,370.5 310.00,370.7 310.25,370.3 310.50,370.4 310.75,370.5 311.00,370.5 311.25,370.4 311.50,369.9 311.75,370.6 312.00,370.1 312.25,370.1 312.50,370.4 312.75,370.5 313.00,370.6 313.25,370.3 313.50,370.8 313.75,370.6 314.00,370.7 314.25,370.5 314.50,370.2 314.75,370.1 315.00,370.6 315.25,370.4 315.50,370.3 315.75,370.2 316.00,370.1 316.25,370.3 316.50,370.1 316.75,370.6 317.00,370.0 317.25,370.6 317.50,370.4 317.75,370.1 318.00,370.4 318.25,370.3 318.50,370.2 318.75,370.5 319.00,370.5 319.25,370.0 319.50,370.6 319.75,369.9 320.00,369.9 320.25,370.3 320.50,370.2 320.75,370.3 321.00,370.3 321.25,370.2 321.50,370.6 321.75,370.5 322.00,370.0 322.25,370.0 322.50,370.2 322.75,369.8 323.00,369.9 323.25,370.2 323.50,369.6 323.75,370.2 324.00,370.2 324.25,370.0 324.50,370.0 324.75,370.2 325.00,370.1 325.25,370.6 325.50,370.4 325.75,370.3 326.00,370.7 326.25,370.6 326.50,370.3 326.75,370.5 327.00,370.5 327.25,370.9 327.50,370.4 327.75,370.5 328.00,370.9 328.25,370.4 328.50,370.7 328.75,370.1 329.00,370.4 329.25,370.2 329.50,370.7 329.75,370.5 330.00,370.2 330.25,370.1 330.50,370.3 330.75,370.1 331.00,370.4 331.25,370.6 331.50,370.2 331.75,370.1 332.00,370.2 332.25,370.1 332.50,370.6 332.75,370.0 333.00,370.6 333.25,370.3 333.50,370.6 333.75,370.7 334.00,370.2 334.25,370.8 334.50,371.0 334.75,370.7 335.00,370.8 335.25,370.6 335.50,370.5 335.75,370.9 336.00,371.0 336.25,370.5 336.50,370.4 336.75,370.6 337.00,370.8 337.25,370.6 337.50,371.0 337.75,370.9 338.00,371.0 338.25,370.7 338.50,370.8 338.75,370.9 339.00,370.1 339.25,370.5 339.50,370.1 339.75,370.5 340.00,370.0 340.25,370.3 340.50,369.9 340.75,370.1 341.00,370.1 341.25,370.2 341.50,370.1 341.75,369.8 342.00,370.1 342.25,369.7 342.50,369.7 342.75,370.3 343.00,370.5 343.25,370.4 343.50,370.3 343.75,370.4 344.00,370.5 344.25,370.5 344.50,370.4 344.75,370.7 345.00,370.3 345.25,370.7 345.50,370.6 345.75,370.5 346.00,370.5 346.25,370.5 346.50,370.4 346.75,369.8 347.00,369.3 347.25,368.6 347.50,367.1 347.75,364.4 348.00,360.6 348.25,356.1 348.50,351.6 348.75,348.2 349.00,346.9 349.25,348.1 349.50,351.6 349.75,356.2 350.00,360.7 350.25,359.9 350.50,358.9 350.75,359.0 351.00,360.4 351.25,362.5 351.50,365.1 351.75,367.1 352.00,368.9 352.25,370.1 352.50,370.3 352.75,371.3 353.00,371.4 353.25,371.5 353.50,370.8 353.75,371.2 354.00,371.2 354.25,371.3 354.50,370.7 354.75,370.6 355.00,371.1 355.25,370.6 355.50,370.4 355.75,370.3 356.00,370.7 356.25,370.6 356.50,370.7 356.75,370.7 357.00,370.1 357.25,370.9 357.50,370.8 357.75,370.9 358.00,370.8 358.25,370.5 358.50,370.4 358.75,371.0 359.00,370.6 359.25,370.6 359.50,370.8 359.75,370.8 360.00,370.8 360.25,370.8 360.50,370.7 360.75,370.9 361.00,370.6 361.25,370.4 361.50,371.0 361.75,370.9 362.00,370.8 362.25,370.4 362.50,370.2 362.75,371.0 363.00,371.0 363.25,370.5 363.50,370.8 363.75,370.3 364.00,370.6 364.25,370.9 364.50,370.6 364.75,371.0 365.00,371.1 365.25,370.5 365.50,370.9 365.75,370.7 366.00,370.5 366.25,370.7 366.50,370.8 366.75,371.1 367.00,371.0 367.25,370.4 367.50,370.5 367.75,371.3 368.00,370.9 368.25,371.0 368.50,370.8 368.75,371.2 369.00,371.0 369.25,371.0 369.50,370.7 369.75,371.2 370.00,370.7 370.25,370.7 370.50,371.1 370.75,371.3 371.00,370.9 371.25,370.9 371.50,370.8 371.75,371.1 372.00,371.2 372.25,370.6 372.50,370.9 372.75,370.9 373.00,370.5 373.25,370.8 373.50,370.5 373.75,370.4 374.00,371.0 374.25,370.2 374.50,370.4 374.75,370.6 375.00,370.5 375.25,370.3 375.50,371.0 375.75,370.6 376.00,370.7 376.25,371.2 376.50,371.3 376.75,371.3 377.00,371.0 377.25,371.3 377.50,371.4 377.75,370.8 378.00,371.4 378.25,370.7 378.50,371.0 378.75,370.7 379.00,370.6 379.25,370.5 379.50,371.1 379.75,370.3 380.00,370.9 380.25,370.3 380.50,370.3 380.75,370.3 381.00,370.9 381.25,370.2 381.50,370.8 381.75,370.4 382.00,370.9 382.25,370.8 382.50,370.4 382.75,370.6 383.00,370.3 383.25,370.5 383.50,370.2 383.75,370.7 384.00,370.6 384.25,370.2 384.50,369.9 384.75,370.4 385.00,369.6 385.25,369.4 385.50,368.8 385.75,368.5 386.00,367.8 386.25,367.0 386.50,366.0 386.75,364.8 387.00,363.5 387.25,360.7 387.50,355.7 387.75,346.6 388.00,333.8 388.25,321.6 388.50,316.3 388.75,321.5 389.00,333.8 389.25,346.6 389.50,344.5 389.75,343.7 390.00,345.5 390.25,349.4 390.50,354.4 390.75,359.3 391.00,363.8 391.25,367.0 391.50,368.5 391.75,369.0 392.00,369.8 392.25,369.7 392.50,369.8 392.75,369.8 393.00,370.3 393.25,370.7 393.50,370.7 393.75,370.5 394.00,370.4 394.25,370.9 394.50,370.7 394.75,370.9 395.00,370.7 395.25,370.7 395.50,370.8 395.75,370.3 396.00,370.4 396.25,370.3 396.50,371.0 396.75,371.1 397.00,370.8 397.25,370.4 397.50,370.4 397.75,370.7 398.00,370.7 398.25,370.5 398.50,370.5 398.75,370.9 399.00,371.0 399.25,370.5 399.50,370.7 399.75,370.7 400.00,370.9 400.25,371.0 400.50,370.8 400.75,371.2 401.00,370.8 401.25,370.8 401.50,371.1 401.75,371.2 402.00,371.3 402.25,370.8 402.50,370.8 402.75,371.0 403.00,371.5 403.25,371.2 403.50,371.3 403.75,371.0 404.00,371.6 404.25,371.0 404.50,371.3 404.75,371.4 405.00,371.4 405.25,371.4 405.50,371.0 405.75,370.8 406.00,371.4 406.25,371.0 406.50,370.7 406.75,370.5 407.00,371.0 407.25,371.0 407.50,370.7 407.75,370.6 408.00,370.9 408.25,371.2 408.50,370.9 408.75,371.1 409.00,371.2 409.25,371.1 409.50,371.0 409.75,370.8 410.00,371.2 410.25,371.4 410.50,371.5 410.75,370.9 411.00,370.8 411.25,371.2 411.50,371.4 411.75,370.8 412.00,371.2 412.25,371.0 412.50,371.5 412.75,371.0 413.00,370.8 413.25,371.4 413.50,371.0 413.75,371.1 414.00,370.8 414.25,370.9 414.50,370.7 414.75,370.7 415.00,370.7 415.25,370.2 415.50,370.0 415.75,369.4 416.00,368.7 416.25,367.8 416.50,367.1 416.75,366.2 417.00,365.6 417.25,365.2 417.50,365.0 417.75,365.1 418.00,365.6 418.25,366.3 418.50,367.0 418.75,367.8 419.00,368.6 419.25,369.3 419.50,369.8 419.75,370.3 420.00,370.6 420.25,370.8 420.50,371.1 420.75,371.3 421.00,371.2 421.25,371.0 421.50,371.5 421.75,370.9 422.00,371.5 422.25,371.2 422.50,371.2 422.75,371.5 423.00,371.3 423.25,371.5 423.50,371.3 423.75,370.7 424.00,370.9 424.25,370.9 424.50,370.1 424.75,369.1 425.00,365.9 425.25,359.7 425.50,352.3 425.75,346.0 426.00,342.1 426.25,340.5 426.50,340.3 426.75,340.6 427.00,342.1 427.25,346.1 427.50,352.4 427.75,358.9 428.00,361.9 428.25,364.6 428.50,367.4 428.75,368.8 429.00,370.2 429.25,370.8 429.50,370.6 429.75,370.6 430.00,371.0 430.25,370.7 430.50,370.9 430.75,370.8 431.00,370.9 431.25,371.0 431.50,370.9 431.75,370.9 432.00,371.1 432.25,371.2 432.50,370.8 432.75,371.5 433.00,371.1 433.25,371.4 433.50,370.6 433.75,370.2 434.00,368.7 434.25,365.7 434.50,361.1 434.75,356.7 435.00,353.5 435.25,351.9 435.50,351.5 435.60,351.5 435.75,351.5 436.00,352.1 436.25,353.9 436.50,357.5 436.75,362.0 437.00,365.8 437.25,367.6 437.50,368.6 437.75,369.8 438.00,370.2 438.25,370.6 438.50,370.5 438.75,370.6 439.00,371.2 439.25,371.1 439.50,371.1 439.75,371.4 440.00,371.6 440.25,371.1 440.50,371.8 440.75,371.0 441.00,371.5 441.25,371.2 441.50,371.2 441.75,371.3 442.00,371.4 442.25,371.2 442.50,371.4 442.75,371.6 443.00,370.9 443.25,371.0 443.50,371.2 443.75,371.1 444.00,371.0 444.25,371.2 444.50,371.3 444.75,371.5 445.00,371.5 445.25,371.4 445.50,371.0 445.75,371.5 446.00,371.3 446.25,370.9 446.50,371.5 446.75,371.0 447.00,371.3 447.25,371.3 447.50,371.4 447.75,371.2 448.00,371.5 448.25,370.7 448.50,370.7 448.75,370.8 449.00,371.1 449.25,371.0 449.50,370.7 449.75,370.8 450.00,371.0 450.25,370.8 450.50,371.0 450.75,370.8 451.00,370.8 451.25,370.6 451.50,370.4 451.75,370.2 452.00,370.0 452.25,369.9 452.50,369.8 452.75,369.7 453.00,369.6 453.25,369.7 453.50,369.8 453.75,370.0 454.00,370.1 454.25,370.2 454.50,370.5 454.75,370.6 455.00,370.7 455.25,370.9 455.50,370.9 455.75,370.9 456.00,371.2 456.25,371.1 456.50,371.3 456.75,371.2 457.00,371.2 457.25,371.0 457.50,371.1 457.75,371.2 458.00,371.1 458.25,371.4 458.50,371.0 458.75,371.0 459.00,371.1 459.25,371.5 459.50,371.6 459.75,371.4 460.00,371.2 460.25,371.5 460.50,371.7 460.75,371.2 461.00,371.6 461.25,371.6 461.50,371.4 461.75,371.2 462.00,371.5 462.25,371.2 462.50,371.2 462.75,371.3 463.00,371.6 463.25,371.0 463.50,370.9 463.75,371.2 464.00,371.5 464.25,370.7 464.50,371.2 464.75,370.7 465.00,371.2 465.25,370.9 465.50,371.4 465.75,371.2 466.00,371.5 466.25,371.3 466.50,371.2 466.75,371.3 467.00,371.5 467.25,371.5 467.50,371.5 467.75,371.8 468.00,371.7 468.25,372.0 468.50,371.7 468.75,371.7 469.00,371.8 469.25,371.9 469.50,371.7 469.75,371.2 470.00,371.5 470.25,371.2 470.50,371.6 470.75,371.2 471.00,371.5 471.25,371.2 471.50,371.8 471.75,371.2 472.00,371.6 472.25,371.6 472.50,371.3 472.75,371.5 473.00,371.3 473.25,371.2 473.50,371.2 473.75,371.0 474.00,371.5 474.25,371.1 474.50,371.1 474.75,371.1 475.00,371.6 475.25,371.4 475.50,371.3 475.75,371.4 476.00,371.6 476.25,371.4 476.50,371.3 476.75,371.2 477.00,371.3 477.25,371.7 477.50,371.4 477.75,371.3 478.00,371.6 478.25,371.0 478.50,371.0 478.75,371.6 479.00,371.7 479.25,371.0 479.50,371.0 479.75,370.9 480.00,371.4 480.25,371.0 480.50,371.4 480.75,371.4 481.00,370.9 481.25,371.6 481.50,371.1 481.75,371.3 482.00,371.2 482.25,371.2 482.50,371.2 482.75,370.9 483.00,371.2 483.25,371.1 483.50,371.2 483.75,371.1 484.00,371.2 484.25,371.5 484.50,371.8 484.75,371.2 485.00,371.7 485.25,371.5 485.50,371.1 485.75,371.1 486.00,371.8 486.25,371.3 486.50,371.2 486.75,371.6 487.00,371.7 487.25,371.9 487.50,371.6 487.75,371.4 488.00,371.4 488.25,371.4 488.50,371.7 488.75,372.0 489.00,371.3 489.25,371.5 489.50,371.5 489.75,371.3 490.00,371.7 490.25,372.0 490.50,371.4 490.75,371.8 491.00,371.9 491.25,371.4 491.50,371.9 491.75,371.8 492.00,371.7 492.25,371.3 492.50,371.3 492.75,371.1 493.00,371.8 493.25,371.7 493.50,371.1 493.75,371.4 494.00,371.1 494.25,371.5 494.50,371.4 494.75,371.7 495.00,371.5 495.25,371.1 495.50,371.3 495.75,371.5 496.00,371.8 496.25,371.4 496.50,371.3 496.75,371.4 497.00,371.4 497.25,371.3 497.50,371.5 497.75,371.4 498.00,371.6 498.25,371.9 498.50,371.9 498.75,371.3 499.00,371.6 499.25,371.7 499.50,371.2 499.75,371.5 500.00,371.3 500.25,371.4 500.50,371.3 500.75,371.8 501.00,371.3 501.25,371.6 501.50,371.6 501.75,371.5 502.00,372.0 502.25,371.5 502.50,371.5 502.75,371.8 503.00,371.7 503.25,371.9 503.50,371.5 503.75,371.5 504.00,372.0 504.25,371.8 504.50,372.2 504.75,371.7 505.00,371.8 505.25,372.3 505.50,371.9 505.75,371.8 506.00,371.9 506.25,372.4 506.50,372.0 506.75,372.2 507.00,372.4 507.25,372.2 507.50,372.3 507.75,372.5 508.00,371.9 508.25,372.3 508.50,372.0 508.75,371.7 509.00,371.7 509.25,371.8 509.50,371.6 509.75,372.1 510.00,371.9 510.25,371.5 510.50,372.1 510.75,371.9 511.00,371.7 511.25,371.5 511.50,371.7 511.75,372.0 512.00,371.7 512.25,371.6 512.50,371.5 512.75,371.0 513.00,370.4 513.25,369.4 513.50,368.6 513.75,368.0 514.00,367.8 514.25,367.7 514.40,367.7 514.50,367.7 514.75,367.8 515.00,368.1 515.25,368.5 515.50,369.2 515.75,370.1 516.00,370.8 516.25,371.0 516.50,371.3 516.75,371.5 517.00,371.3 517.25,371.5 517.50,371.1 517.75,371.5 518.00,371.8 518.25,371.8 518.50,371.5 518.75,371.9 519.00,371.3 519.25,371.3 519.50,371.4 519.75,371.5 520.00,371.7 520.25,371.4 520.50,371.1 520.75,371.6 521.00,371.2 521.25,371.8 521.50,371.2 521.75,371.3 522.00,371.3 522.25,371.4 522.50,371.7 522.75,371.5 523.00,371.4 523.25,371.9 523.50,372.1 523.75,371.6 524.00,371.9 524.25,371.7 524.50,371.7 524.75,371.9 525.00,371.8 525.25,372.3 525.50,371.6 525.75,372.0 526.00,372.1 526.25,371.8 526.50,371.8 526.75,371.6 527.00,371.6 527.25,371.4 527.50,372.1 527.75,371.4 528.00,371.5 528.25,372.0 528.50,371.8 528.75,371.8 529.00,371.7 529.25,371.6 529.50,372.1 529.75,371.6 530.00,371.8 530.25,372.1 530.50,371.8 530.75,372.3 531.00,371.7 531.25,371.9 531.50,371.9 531.75,371.9 532.00,372.1 532.25,371.5 532.50,371.9 532.75,372.1 533.00,371.5 533.25,371.9 533.50,371.8 533.75,371.8 534.00,371.9 534.25,372.0 534.50,372.0 534.75,372.2 535.00,372.0 535.25,372.3 535.50,372.1 535.75,371.8 536.00,371.7 536.25,371.7 536.50,371.8" fill="none" stroke="#f00" stroke-width="3.5" stroke-linejoin="round" stroke-linecap="round"/>
<circle cx="208.4" cy="25.1" r="9.65" fill="none" stroke="#000" stroke-width="2.05"/><circle cx="208.4" cy="25.1" r="4.45" fill="none" stroke="#000" stroke-width="2.05"/><circle cx="190.6" cy="167" r="9.65" fill="none" stroke="#000" stroke-width="2.05"/><circle cx="190.6" cy="167" r="4.45" fill="none" stroke="#000" stroke-width="2.05"/><circle cx="176.6" cy="257.2" r="9.65" fill="none" stroke="#000" stroke-width="2.05"/><circle cx="176.6" cy="257.2" r="4.45" fill="none" stroke="#000" stroke-width="2.05"/><circle cx="283.8" cy="234.5" r="9.65" fill="none" stroke="#000" stroke-width="2.05"/><circle cx="283.8" cy="234.5" r="4.45" fill="none" stroke="#000" stroke-width="2.05"/><circle cx="353" cy="217.5" r="9.65" fill="none" stroke="#000" stroke-width="2.05"/><circle cx="353" cy="217.5" r="4.45" fill="none" stroke="#000" stroke-width="2.05"/><circle cx="362.6" cy="269.8" r="9.65" fill="none" stroke="#000" stroke-width="2.05"/><circle cx="362.6" cy="269.8" r="4.45" fill="none" stroke="#000" stroke-width="2.05"/><circle cx="387.8" cy="247.5" r="9.65" fill="none" stroke="#000" stroke-width="2.05"/><circle cx="387.8" cy="247.5" r="4.45" fill="none" stroke="#000" stroke-width="2.05"/><circle cx="412.7" cy="270.5" r="9.65" fill="none" stroke="#000" stroke-width="2.05"/><circle cx="412.7" cy="270.5" r="4.45" fill="none" stroke="#000" stroke-width="2.05"/><circle cx="419.5" cy="244.8" r="9.65" fill="none" stroke="#000" stroke-width="2.05"/><circle cx="419.5" cy="244.8" r="4.45" fill="none" stroke="#000" stroke-width="2.05"/><circle cx="435.5" cy="225.8" r="9.65" fill="none" stroke="#000" stroke-width="2.05"/><circle cx="435.5" cy="225.8" r="4.45" fill="none" stroke="#000" stroke-width="2.05"/><circle cx="490.5" cy="276.3" r="9.65" fill="none" stroke="#000" stroke-width="2.05"/><circle cx="490.5" cy="276.3" r="4.45" fill="none" stroke="#000" stroke-width="2.05"/><polygon points="86.60,238.10 89.00,248.10 99.30,250.50 89.00,252.90 86.60,262.90 84.20,252.90 73.90,250.50 84.20,248.10" fill="#000"/><polygon points="224.60,199.30 227.00,209.30 237.30,211.70 227.00,214.10 224.60,224.10 222.20,214.10 211.90,211.70 222.20,209.30" fill="#000"/><polygon points="309.50,254.90 311.90,264.90 322.20,267.30 311.90,269.70 309.50,279.70 307.10,269.70 296.80,267.30 307.10,264.90" fill="#000"/><polygon points="452.30,247.60 454.70,257.60 465.00,260.00 454.70,262.40 452.30,272.40 449.90,262.40 439.60,260.00 449.90,257.60" fill="#000"/><polygon points="517.70,260.80 520.10,270.80 530.40,273.20 520.10,275.60 517.70,285.60 515.30,275.60 505.00,273.20 515.30,270.80" fill="#000"/><polygon points="104.3,319.90000000000003 114.05,331.3 104.3,342.7 94.55,331.3" fill="#000"/><polygon points="124.7,318.6 134.45,330 124.7,341.4 114.95,330" fill="#000"/><polygon points="229.8,328.70000000000005 239.55,340.1 229.8,351.5 220.05,340.1" fill="#000"/>
<rect x="61.8" y="10.3" width="475.4" height="383.9" fill="none" stroke="#000" stroke-width="2.2"/>
<line x1="95.5" y1="387" x2="95.5" y2="394" stroke="#000" stroke-width="2.2"/><line x1="163.4" y1="387" x2="163.4" y2="394" stroke="#000" stroke-width="2.2"/><line x1="231.3" y1="387" x2="231.3" y2="394" stroke="#000" stroke-width="2.2"/><line x1="299.3" y1="387" x2="299.3" y2="394" stroke="#000" stroke-width="2.2"/><line x1="367.2" y1="387" x2="367.2" y2="394" stroke="#000" stroke-width="2.2"/><line x1="435.1" y1="387" x2="435.1" y2="394" stroke="#000" stroke-width="2.2"/><line x1="503.0" y1="387" x2="503.0" y2="394" stroke="#000" stroke-width="2.2"/>
<text x="95.5" y="421.5" text-anchor="middle" class="tk">20</text><text x="163.4" y="421.5" text-anchor="middle" class="tk">30</text><text x="231.3" y="421.5" text-anchor="middle" class="tk">40</text><text x="299.3" y="421.5" text-anchor="middle" class="tk">50</text><text x="367.2" y="421.5" text-anchor="middle" class="tk">60</text><text x="435.1" y="421.5" text-anchor="middle" class="tk">70</text><text x="503.0" y="421.5" text-anchor="middle" class="tk">80</text>
<text x="299" y="467.6" text-anchor="middle" class="lab">Angle (2θ)</text>
<text transform="translate(28.3,188.8) rotate(-90)" text-anchor="middle" class="lab" style="font-size:30.6px">Intensity</text>
<line x1="357.3" y1="35.8" x2="413.7" y2="35.8" stroke="#000" stroke-width="3.6"/>
<line x1="357.3" y1="66.3" x2="413.7" y2="66.3" stroke="#f00" stroke-width="3.6"/>
<text x="420" y="44" class="leg">Coated</text>
<text x="420" y="74.5" class="leg">Uncoated</text>
<polygon points="266.3,105.9 276.3,117.2 266.3,128.5 256.3,117.2" fill="#000"/>
<text x="279" y="123.9" class="ser">Mg<tspan class="sub" dy="2.5">54</tspan><tspan dy="-2.5">Ag</tspan><tspan class="sub" dy="2.5">17</tspan></text>
<circle cx="427.2" cy="118.4" r="9.3" fill="none" stroke="#000" stroke-width="2.1"/><circle cx="427.2" cy="118.4" r="4.3" fill="none" stroke="#000" stroke-width="2.1"/>
<text transform="translate(446.5,123.9) skewX(-6)" class="ser">α</text><text x="463.5" y="123.9" class="ser">-Mg</text>
<polygon points="390.40,152.80 392.80,162.90 402.90,165.30 392.80,167.70 390.40,177.80 388.00,167.70 377.90,165.30 388.00,162.90" fill="#000"/>
<text x="405.3" y="172.8" class="ser" style="letter-spacing:-0.5px">Mg(OH)<tspan class="sub" dy="3" dx="0.6">2</tspan></text>
</svg>
</body></html>
